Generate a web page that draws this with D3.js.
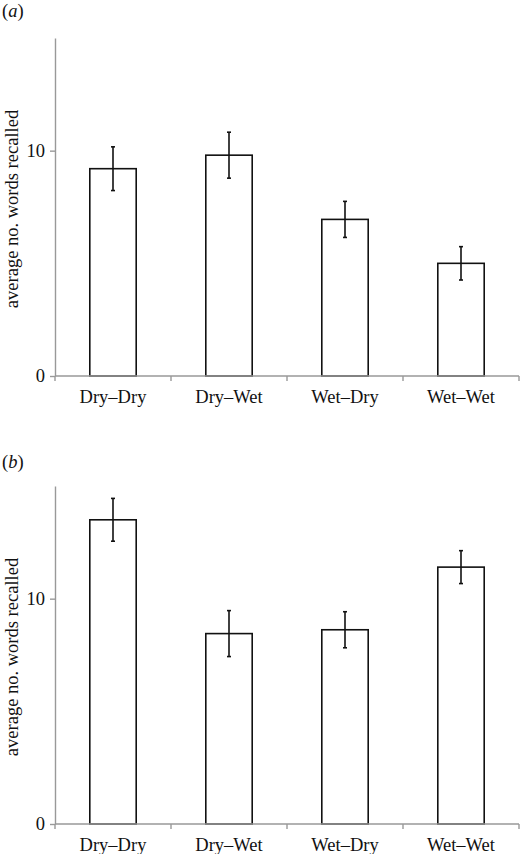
<!DOCTYPE html>
<html>
<head>
<meta charset="utf-8">
<script src="https://cdn.jsdelivr.net/npm/d3@7"></script>
<style>
  body { margin: 0; background: #fff; }
</style>
</head>
<body>
<div id="chart"></div>
<script>
// conditions (learn - recall)
let categories = ['Dry\u2013Dry', 'Dry\u2013Wet', 'Wet\u2013Dry', 'Wet\u2013Wet'];
let yTicks = [0, 10];

// panel (a)
let meansA = [9.2, 9.8, 6.95, 5.0];
let errA = [0.97, 1.02, 0.8, 0.74];

// panel (b)
let meansB = [13.5, 8.45, 8.62, 11.4];
let errB = [0.95, 1.02, 0.8, 0.73];

let FONT = '"Liberation Serif", "Times New Roman", Times, "DejaVu Serif", serif';
let FS = 18.5;
let width = 520, height = 854;
let svg = d3.select('#chart').append('svg').attr('width', width).attr('height', height)
  .attr('font-family', FONT);

function drawPanel(tag, means, errs, top, tagY){
  let margin = {left: 55, right: 1};
  let plotH = 338;
  let g = svg.append('g').attr('class', 'panel').attr('transform', 'translate(0,' + top + ')');

  let xScale = d3.scaleBand().domain(categories).range([margin.left, width - margin.right])
    .paddingInner(0).paddingOuter(0);
  let yScale = d3.scaleLinear().domain([0, 15]).range([plotH, 0]);

  let data = categories.map((c, i) => ({cat: c, mean: means[i], err: errs[i]}));
  let barW = xScale.bandwidth() * 0.4;

  // bars
  g.selectAll('.bar').data(data).enter().append('rect')
    .attr('class', 'bar')
    .attr('x', d => xScale(d.cat) + (xScale.bandwidth() - barW) / 2)
    .attr('y', d => yScale(d.mean))
    .attr('width', barW)
    .attr('height', d => yScale(0) - yScale(d.mean))
    .attr('fill', '#fff')
    .attr('stroke', '#111')
    .attr('stroke-width', 1.6);

  // error bars
  let eb = g.selectAll('.err').data(data).enter().append('g').attr('class', 'err')
    .attr('transform', d => 'translate(' + [xScale(d.cat) + xScale.bandwidth() / 2, 0] + ')');
  eb.append('line')
    .attr('x1', 0).attr('x2', 0)
    .attr('y1', d => yScale(d.mean + d.err))
    .attr('y2', d => yScale(d.mean - d.err))
    .attr('stroke', '#111').attr('stroke-width', 1.6);
  eb.append('line')
    .attr('x1', -2).attr('x2', 2)
    .attr('y1', d => yScale(d.mean + d.err)).attr('y2', d => yScale(d.mean + d.err))
    .attr('stroke', '#111').attr('stroke-width', 1.6);
  eb.append('line')
    .attr('x1', -2).attr('x2', 2)
    .attr('y1', d => yScale(d.mean - d.err)).attr('y2', d => yScale(d.mean - d.err))
    .attr('stroke', '#111').attr('stroke-width', 1.6);

  // y axis
  let yAxis = d3.axisLeft(yScale).tickValues(yTicks).tickSize(5).tickPadding(5).tickSizeOuter(0);
  let ya = g.append('g').attr('class', 'yAxis')
    .attr('transform', 'translate(' + margin.left + ',0)')
    .call(yAxis)
    .attr('font-family', FONT)
    .attr('font-size', FS);
  ya.select('.domain').attr('stroke', '#999').attr('stroke-width', 1.4);
  ya.selectAll('.tick line').attr('stroke', '#999').attr('stroke-width', 1.4);
  ya.selectAll('.tick text').attr('fill', '#111');

  // x axis: ticks on band boundaries
  let xAxisLine = g.append('g').attr('class', 'xAxis');
  xAxisLine.append('line')
    .attr('x1', margin.left).attr('x2', width - margin.right)
    .attr('y1', yScale(0)).attr('y2', yScale(0))
    .attr('stroke', '#999').attr('stroke-width', 1.4);
  let bounds = categories.map(c => xScale(c)).concat([xScale.range()[1]]);
  xAxisLine.selectAll('.xtick').data(bounds).enter().append('line')
    .attr('class', 'xtick')
    .attr('x1', d => d).attr('x2', d => d)
    .attr('y1', yScale(0)).attr('y2', yScale(0) + 5)
    .attr('stroke', '#999').attr('stroke-width', 1.4);
  xAxisLine.selectAll('.xlab').data(categories).enter().append('text')
    .attr('class', 'xlab')
    .attr('x', d => xScale(d) + xScale.bandwidth() / 2)
    .attr('y', yScale(0) + 27)
    .attr('text-anchor', 'middle')
    .attr('font-size', FS)
    .attr('fill', '#111')
    .text(d => d);

  // y label
  g.append('text')
    .attr('transform', 'translate(18,' + (plotH / 2 + 2) + ') rotate(-90)')
    .attr('text-anchor', 'middle')
    .attr('font-size', FS)
    .attr('fill', '#111')
    .text('average no. words recalled');

  // panel tag
  let tagText = svg.append('text').attr('x', 2).attr('y', tagY).attr('font-size', FS).attr('fill', '#111');
  tagText.append('tspan').text('(');
  tagText.append('tspan').attr('font-style', 'italic').text(tag);
  tagText.append('tspan').text(')');
}

drawPanel('a', meansA, errA, 38, 17);
drawPanel('b', meansB, errB, 486, 468);
</script>
</body>
</html>
